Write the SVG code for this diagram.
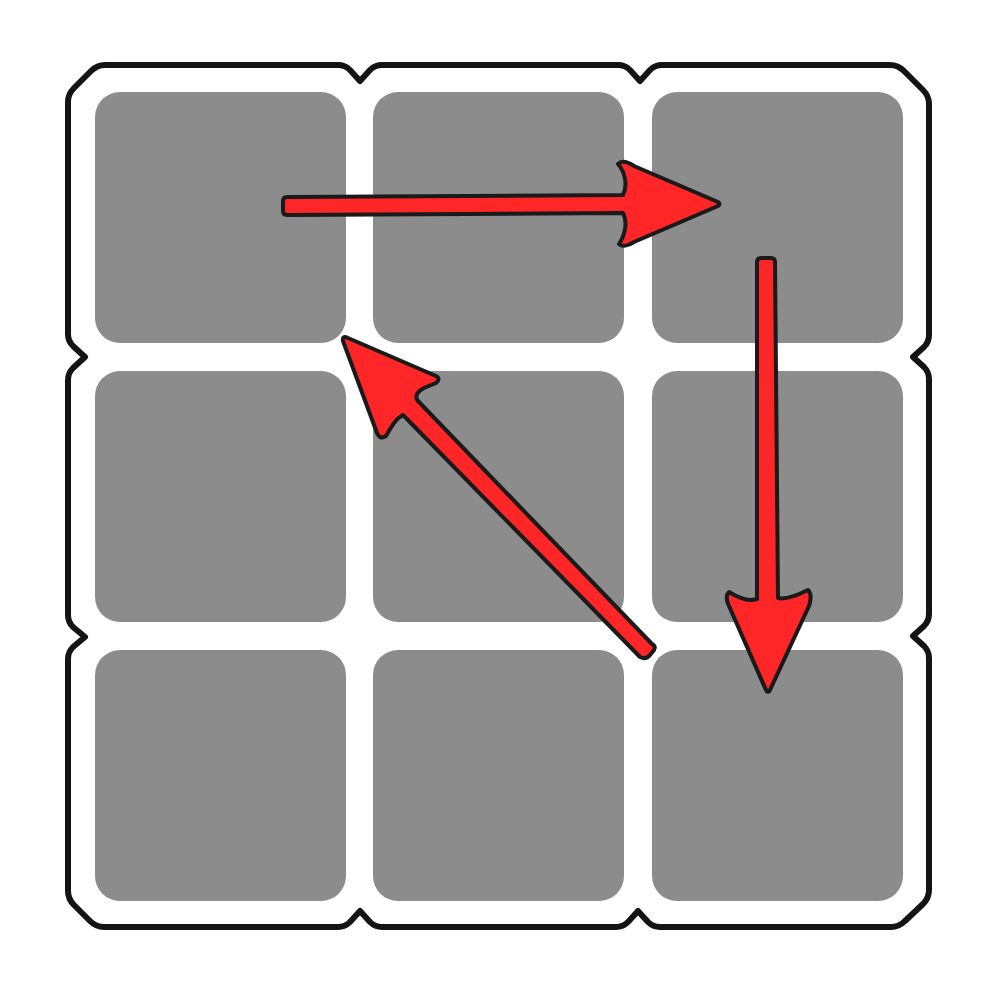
<svg xmlns="http://www.w3.org/2000/svg" width="1001" height="1008" viewBox="0 0 1001 1008">
<style>
.tile{fill:#8c8c8c}
.arrow{fill:#fe2626;stroke:#1a1a1a;stroke-width:4;stroke-linejoin:round}
.frame{fill:#ffffff;stroke:#141414;stroke-width:6;stroke-linejoin:round}
</style>
<rect width="1001" height="1008" fill="#ffffff"/>
<g id="frame">
<path class="frame" d="M 105 65 L 338 65 Q 345 65 350 70 L 360 81 L 370 70 Q 375 65 382 65 L 618 65 Q 625 65 630 70 L 640 81 L 650 70 Q 655 65 662 65 L 890 65 Q 898 65 904 71 L 923 90 Q 929 96 929 104 L 929 335 Q 929 342 924 347 L 913 357 L 924 367 Q 929 372 929 379 L 929 614 Q 929 621 924 626 L 913 636 L 924 646 Q 929 651 929 658 L 929 890 Q 929 898 923 904 L 905 921 Q 899 927 891 927 L 660 927 Q 653 927 648 922 L 638 911 L 628 922 Q 623 927 616 927 L 382 927 Q 375 927 370 922 L 360 911 L 350 922 Q 345 927 338 927 L 104 927 Q 96 927 90 921 L 74 905 Q 68 899 68 891 L 68 659 Q 68 652 73 647 L 85 637 L 73 627 Q 68 622 68 615 L 68 380 Q 68 373 73 368 L 85 357 L 73 346 Q 68 341 68 334 L 68 102 Q 68 94 74 88 L 91 71 Q 97 65 105 65 Z"/>
</g>
<g id="tiles">
<rect id="tile-1-1" class="tile" x="95" y="92" width="251" height="251" rx="25"/>
<rect id="tile-1-2" class="tile" x="373" y="92" width="251" height="251" rx="25"/>
<rect id="tile-1-3" class="tile" x="652" y="92" width="251" height="251" rx="25"/>
<rect id="tile-2-1" class="tile" x="95" y="371" width="251" height="251" rx="25"/>
<rect id="tile-2-2" class="tile" x="373" y="371" width="251" height="251" rx="25"/>
<rect id="tile-2-3" class="tile" x="652" y="371" width="251" height="251" rx="25"/>
<rect id="tile-3-1" class="tile" x="95" y="650" width="251" height="251" rx="25"/>
<rect id="tile-3-2" class="tile" x="373" y="650" width="251" height="251" rx="25"/>
<rect id="tile-3-3" class="tile" x="652" y="650" width="251" height="251" rx="25"/>
</g>
<g id="connectors">
<path id="arrow-right" class="arrow" d="M 287 197 L 623 195 C 628 185 625 172 618 164 C 622 160 628 162 634 166 L 718 202 Q 721 204 718 206 L 634 242 C 628 246 622 247 619 244 C 625 235 628 222 623 213 L 287 215 Q 283 215 283 211 L 283 201 Q 283 197 287 197 Z"/>
<path id="arrow-down" class="arrow" d="M 757 262 Q 757 258 761 258 L 771 258 Q 775 258 775 262 L 778 598 C 786 600 800 594 808 590 C 812 594 811 600 809 606 L 770 690 Q 768 694 766 690 L 729 606 C 726 600 726 595 729 592 C 737 597 748 602 757 599 Z"/>
<path id="arrow-diag" class="arrow" d="M 652 644 L 418 401 C 414 396 418 391 424 388 L 436 383 Q 441 379 436 376 L 348 338 Q 342 335 343 341 L 377 433 Q 380 440 386 436 C 391 428 394 420 403 415 L 640 657 Q 646 660 650 655 L 654 650 Q 656 646 652 644 Z"/>
</g>
</svg>
